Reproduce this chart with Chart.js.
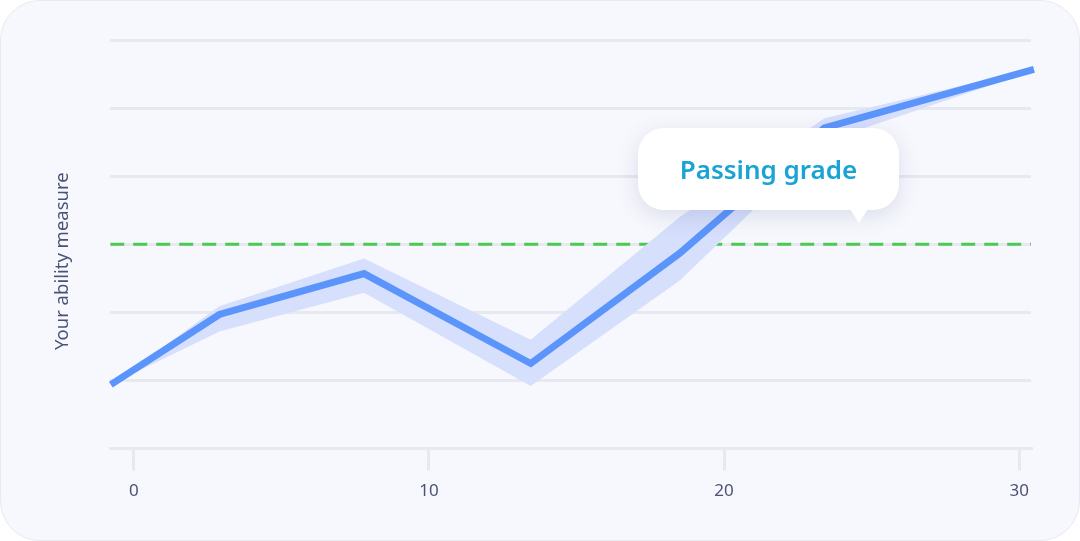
<!DOCTYPE html>
<html>
<head>
<meta charset="utf-8">
<script src="https://cdn.jsdelivr.net/npm/chart.js@4/dist/chart.umd.min.js"></script>
<style>
  html, body { margin: 0; padding: 0; background: #ffffff; }
  .card {
    position: absolute; left: 0; top: 0; width: 1080px; height: 541px;
    box-sizing: border-box; border: 1.5px solid #e8eaf2; border-radius: 40px;
    background: #f7f8fd; overflow: hidden;
  }
  canvas { position: absolute; left: 0; top: 0; }
  .bubble {
    position: absolute; left: 637px; top: 127px; width: 261px; height: 82px;
    background: #ffffff; border-radius: 26px;
    box-shadow: 0 6px 22px rgba(70, 80, 140, 0.16);
    display: flex; align-items: center; justify-content: center;
    font-family: "Noto Sans", "Open Sans", sans-serif; font-weight: 600;
    font-size: 26px; color: #1aa4d6;
  }
  .bubble::after {
    content: ''; position: absolute; left: 212px; bottom: -13px;
    border-left: 9px solid transparent; border-right: 9px solid transparent;
    border-top: 14px solid #ffffff;
  }
</style>
</head>
<body>
<div class="card">
  <canvas id="chart" width="1080" height="541"></canvas>
  <div class="bubble">Passing grade</div>
</div>
<script>
// attempt number on the x axis, ability estimate on the y axis
const attempts = [-0.78, 2.9, 7.8, 13.45, 18.5, 23.4, 30.5]
const ability = [0.94, 1.97, 2.57, 1.25, 2.87, 4.71, 5.57]
const abilityHigh = [0.94, 2.09, 2.79, 1.60, 3.40, 4.85, 5.58]
const abilityLow = [0.94, 1.72, 2.29, 0.92, 2.47, 4.51, 5.55]
const passingGrade = 3
const xTicks = [0, 10, 20, 30]

const GRID = '#e7e8f0'
const TEXT = '#4b5275'

const toPoints = ys => attempts.map((x, i) => ({ x, y: ys[i] }))

new Chart(document.getElementById('chart'), {
  type: 'line',
  data: {
    datasets: [
      {
        label: 'Ability',
        data: toPoints(ability),
        borderColor: '#5b95fb',
        borderWidth: 7,
        pointRadius: 0,
        tension: 0,
        fill: false,
        clip: 10
      },
      {
        label: 'Upper',
        data: toPoints(abilityHigh),
        borderWidth: 0,
        borderColor: 'rgba(0,0,0,0)',
        pointRadius: 0,
        tension: 0,
        fill: false
      },
      {
        label: 'Lower',
        data: toPoints(abilityLow),
        borderWidth: 0,
        borderColor: 'rgba(0,0,0,0)',
        backgroundColor: '#d6dffc',
        pointRadius: 0,
        tension: 0,
        fill: '-1'
      },
      {
        label: 'Passing grade',
        data: [{ x: -0.8, y: passingGrade }, { x: 30.4, y: passingGrade }],
        borderColor: '#4cc955',
        borderWidth: 3,
        borderDash: [14, 9],
        pointRadius: 0,
        fill: false
      }
    ]
  },
  options: {
    responsive: false,
    animation: false,
    layout: { padding: { left: 29, right: 50, top: 39, bottom: 31 } },
    scales: {
      x: {
        type: 'linear',
        min: -0.8,
        max: 30.4,
        afterBuildTicks: axis => { axis.ticks = xTicks.map(value => ({ value })) },
        ticks: {
          color: TEXT,
          padding: 10,
          font: { family: 'Noto Sans', size: 17 }
        },
        grid: { drawOnChartArea: false, drawTicks: true, tickLength: 22, color: GRID, lineWidth: 3 },
        border: { display: true, color: GRID, width: 3 }
      },
      y: {
        min: 0,
        max: 6,
        ticks: { display: false, stepSize: 1 },
        grid: { color: GRID, lineWidth: 3, drawTicks: false },
        border: { display: false },
        title: {
          display: true,
          // trailing spaces nudge the rotated title a little lower, as in the original
          text: 'Your ability measure       ',
          color: TEXT,
          font: { family: 'Noto Sans', size: 18.5 },
          padding: { top: 22, bottom: 36 }
        }
      }
    },
    plugins: {
      legend: { display: false },
      tooltip: { enabled: false }
    }
  }
})
</script>
</body>
</html>
